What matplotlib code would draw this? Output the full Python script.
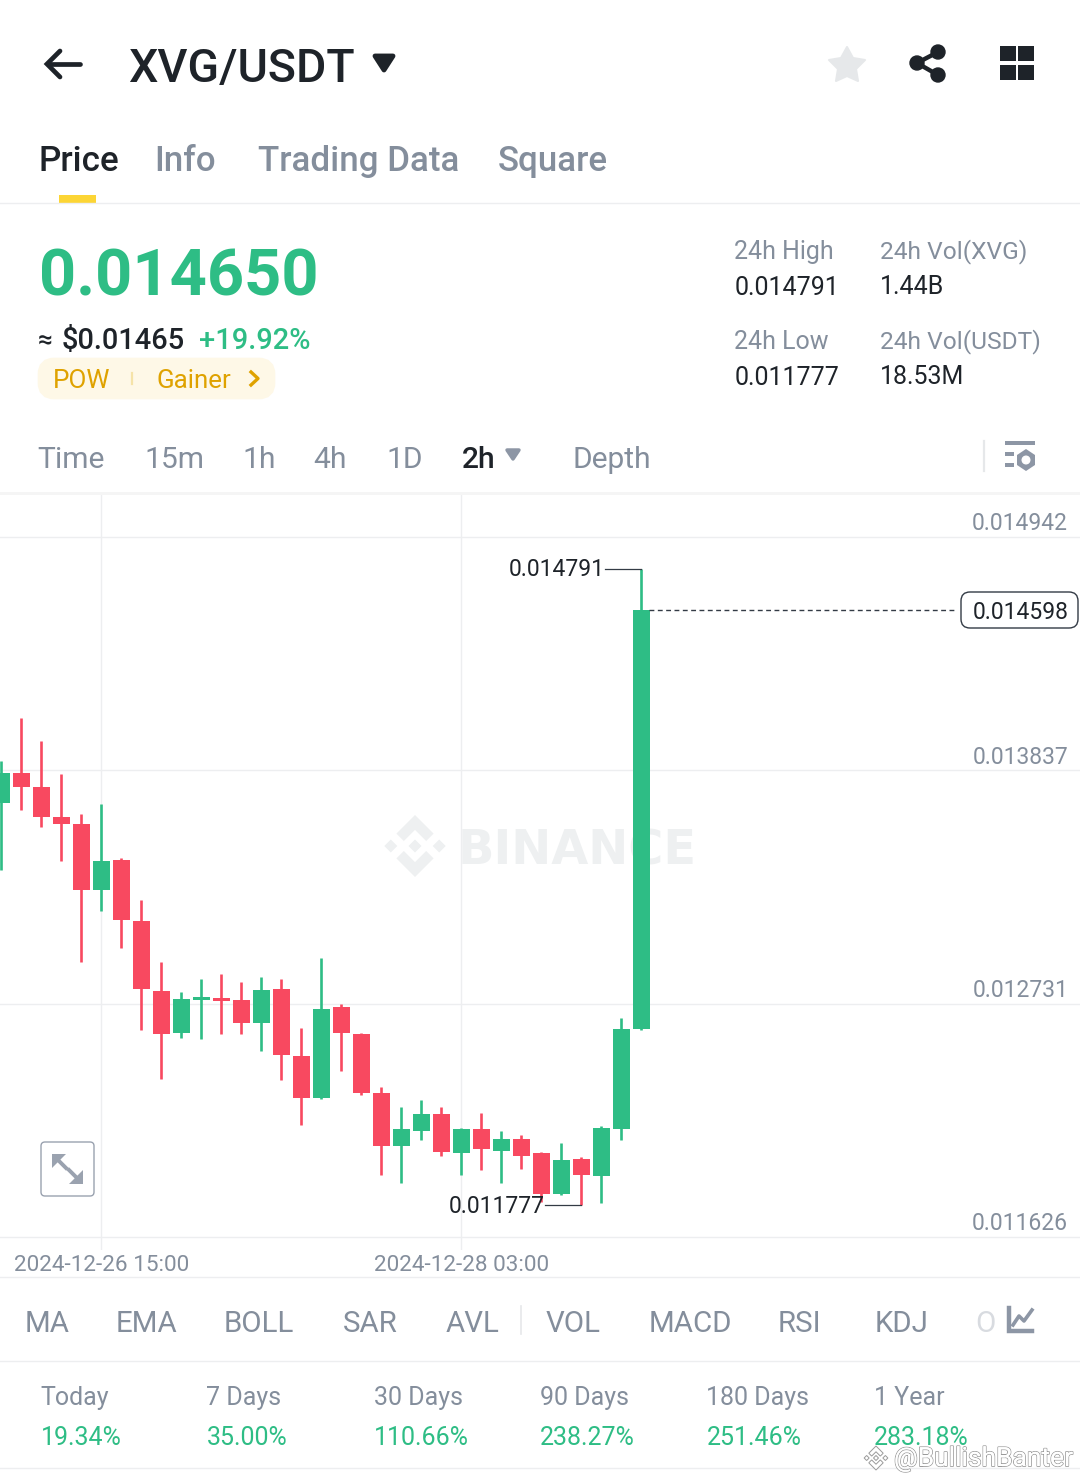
import matplotlib
matplotlib.use("Agg")
import matplotlib.pyplot as plt
import matplotlib.patheffects as pe
from matplotlib.patches import Circle, FancyBboxPatch, Polygon, Rectangle

plt.rcParams['font.family'] = ['Roboto', 'DejaVu Sans']

GREEN = '#2EBD85'
RED = '#F84960'
DARK = '#1E2329'
GREY = '#848E9C'
LINE = '#EDEEF0'

# 2h candles, oldest first
opens = [0.013683, 0.013825, 0.013756, 0.013617, 0.013581, 0.013268, 0.013410, 0.013124, 0.012791,
         0.012592, 0.012749, 0.012757, 0.012749, 0.012638, 0.012799, 0.012482, 0.012285, 0.012714,
         0.012589, 0.012308, 0.012059, 0.012128, 0.012210, 0.012024, 0.012139, 0.012035, 0.012089,
         0.012025, 0.011830, 0.011994, 0.011915, 0.012138, 0.012610]
highs = [0.013882, 0.014083, 0.013976, 0.013818, 0.013628, 0.013676, 0.013420, 0.013222, 0.012927,
         0.012788, 0.012848, 0.012870, 0.012834, 0.012856, 0.012850, 0.012615, 0.012949, 0.012728,
         0.012591, 0.012335, 0.012242, 0.012274, 0.012240, 0.012144, 0.012213, 0.012128, 0.012109,
         0.012029, 0.012071, 0.012004, 0.012152, 0.012662, 0.014791]
lows = [0.013365, 0.013649, 0.013567, 0.013406, 0.012929, 0.013169, 0.012994, 0.012608, 0.012373,
        0.012567, 0.012563, 0.012588, 0.012586, 0.012506, 0.012370, 0.012155, 0.012278, 0.012414,
        0.012299, 0.011920, 0.011883, 0.012086, 0.012008, 0.011920, 0.011943, 0.011883, 0.011948,
        0.011793, 0.011825, 0.011777, 0.011787, 0.012086, 0.012608]
closes = [0.013823, 0.013756, 0.013617, 0.013581, 0.013268, 0.013409, 0.013126, 0.012799, 0.012586,
          0.012755, 0.012764, 0.012745, 0.012640, 0.012796, 0.012488, 0.012285, 0.012708, 0.012594,
          0.012307, 0.012059, 0.012139, 0.012207, 0.012030, 0.012136, 0.012041, 0.012090, 0.012011,
          0.011828, 0.011989, 0.011918, 0.012141, 0.012610, 0.014598]

price_ticks = [0.014942, 0.013837, 0.012731, 0.011626]
date_ticks = [5, 23]
date_labels = ['2024-12-26 15:00', '2024-12-28 03:00']
high_price = 0.014791
low_price = 0.011777
last_price = 0.014598

tabs = ['Price', 'Info', 'Trading Data', 'Square']
tab_x = [39, 155, 259, 498]
intervals = ['Time', '15m', '1h', '4h', '1D', '2h', 'Depth']
interval_x = [38, 145, 243, 314, 387, 462, 573]
indicators = ['MA', 'EMA', 'BOLL', 'SAR', 'AVL', 'VOL', 'MACD', 'RSI', 'KDJ', 'O']
indicator_x = [25, 116, 224, 343, 446, 546, 649, 778, 875, 976]
periods = ['Today', '7 Days', '30 Days', '90 Days', '180 Days', '1 Year']
period_changes = ['19.34%', '35.00%', '110.66%', '238.27%', '251.46%', '283.18%']
period_x = [41, 207, 374, 540, 707, 874]

fig = plt.figure(figsize=(10.8, 14.8), dpi=100, facecolor='white')

# page furniture lives in pixel coordinates, underneath the chart
ui = fig.add_axes([0, 0, 1, 1], zorder=1)
ui.set_xlim(0, 1080)
ui.set_ylim(1480, 0)
ui.axis('off')


def txt(x, y, s, px, color=GREY, weight='normal', ha='left', **kw):
    # roboto sits a bit high with va=center, push it down relative to its size
    return ui.text(x - 1.5, y + px * 0.085, s, fontsize=px * 0.72, color=color, fontweight=weight, ha=ha,
                   va='center', **kw)


def logo(cx, cy, r, **kw):
    top = [(0, -1), (0.6, -0.4), (0.36, -0.16), (0, -0.52), (-0.36, -0.16), (-0.6, -0.4)]
    bottom = [(x, -y) for x, y in top]
    for sx, sy, h in [(0, 0, 0.21), (-0.78, 0, 0.21), (0.78, 0, 0.21)]:
        pts = [(sx, sy - h), (sx + h, sy), (sx, sy + h), (sx - h, sy)]
        ui.add_patch(Polygon([(cx + r * a, cy + r * b) for a, b in pts], **kw))
    for shape in (top, bottom):
        ui.add_patch(Polygon([(cx + r * a, cy + r * b) for a, b in shape], **kw))


# header
ui.plot([48, 80], [64, 64], color=DARK, lw=3.4, solid_capstyle='round')
ui.plot([60, 47, 60], [51, 64, 77], color=DARK, lw=3.4, solid_capstyle='round', solid_joinstyle='miter')
txt(130, 65, 'XVG/USDT', 46.5, DARK, 'medium')
ui.add_patch(Polygon([(375, 56), (393, 56), (384, 70)], closed=True, fc=DARK, ec=DARK, joinstyle='round', lw=3.5))

star = [(847, 47), (853, 58), (865, 60), (856, 69), (858, 81), (847, 76), (836, 81), (838, 69), (829, 60), (841, 58)]
ui.add_patch(Polygon(star, closed=True, fc='#E6E8EA', ec='#E6E8EA', lw=1.5, joinstyle='round'))
ui.plot([938, 917, 938], [52, 63, 75], color=DARK, lw=3.2)
for cx, cy in [(917, 63), (938, 52), (938, 75)]:
    ui.add_patch(Circle((cx, cy), 7, color=DARK))
for x0, y0 in [(1000, 46), (1018, 46), (1000, 65), (1018, 65)]:
    ui.add_patch(Rectangle((x0, y0), 16, 15, color=DARK, lw=0))

for x, label in zip(tab_x, tabs):
    if label == 'Price':
        txt(x + 1, 159, label, 35, DARK, 'medium')
    else:
        txt(x + 1, 159, label, 35, GREY, 'medium')
ui.add_patch(Rectangle((59, 195), 37, 8, color='#FCD535', lw=0))
ui.plot([0, 1080], [203, 203], color=LINE, lw=1)

# price block
txt(40, 272, '0.014650', 65, GREEN, 'bold')
txt(39, 339, '≈', 26, DARK, 'medium')
txt(63, 339, '$0.01465', 29, DARK, 'medium')
txt(200, 339, '+19.92%', 29, GREEN, 'medium')
ui.add_patch(FancyBboxPatch((46, 366), 221, 25, boxstyle='round,pad=0,rounding_size=8',
                            mutation_aspect=1, fc='#FEF8E7', ec='#FEF8E7', lw=12))
txt(54, 379, 'POW', 26, '#DFA200')
ui.plot([132, 132], [373, 384], color='#F5E3A8', lw=1.6)
txt(158, 379, 'Gainer', 26, '#DFA200')
ui.plot([251, 258, 251], [372, 378.5, 385], color='#DFA200', lw=2.4)

txt(736, 250, '24h High', 25)
txt(736, 286, '0.014791', 25, DARK)
txt(736, 340, '24h Low', 25)
txt(736, 376, '0.011777', 25, DARK)
txt(881, 249, '24h Vol(XVG)', 24.5)
txt(881, 285, '1.44B', 25, DARK)
txt(881, 339, '24h Vol(USDT)', 24.5)
txt(881, 375, '18.53M', 25, DARK)

# interval row
for x, label in zip(interval_x, intervals):
    if label == '2h':
        txt(x + 1, 457, label, 30, DARK, 'medium')
    else:
        txt(x + 1, 457, label, 30)
ui.add_patch(Polygon([(507, 450), (519, 450), (513, 459)], closed=True, fc='#8D96A5', ec='#8D96A5', lw=2.5, joinstyle='round'))
ui.plot([983.5, 983.5], [441, 471], color='#E6E8EA', lw=1.6)
ui.add_patch(Rectangle((1005, 441), 30, 4, color='#8D96A5', lw=0))
ui.add_patch(Rectangle((1005, 452), 9, 4, color='#8D96A5', lw=0))
ui.add_patch(Rectangle((1005, 463), 9, 4, color='#8D96A5', lw=0))
hexagon = [(1026, 449), (1035, 455), (1035, 465), (1026, 471), (1017, 465), (1017, 455)]
ui.add_patch(Polygon(hexagon, closed=True, color='#8D96A5', lw=0))
ui.add_patch(Circle((1026, 460), 3.8, color='white'))
ui.add_patch(Rectangle((0, 492), 1080, 3, color='#F5F5F5', lw=0))

# watermark goes under the candles
logo(415, 846, 31, color='#EEF0F1', lw=0)
ui.text(458, 851, 'BINANCE', fontsize=34.5, color='#EEF0F1', fontweight='bold',
        family='DejaVu Sans', va='center')

# lower rows
ui.plot([0, 1080], [1277, 1277], color=LINE, lw=1)
for x, label in zip(indicator_x, indicators):
    txt(x + 1, 1321, label, 29.5, '#D8DBE0' if label == 'O' else GREY)
ui.plot([521, 521], [1306, 1334], color='#E6E8EA', lw=1.2)
ui.plot([1009, 1009, 1032], [1308, 1331, 1331], color='#8D96A5', lw=3.2, solid_joinstyle='miter')
ui.plot([1013, 1019, 1024, 1032], [1325, 1316, 1321, 1310], color='#8D96A5', lw=2.6)
ui.plot([0, 1080], [1361, 1361], color=LINE, lw=1)
for x, label, change in zip(period_x, periods, period_changes):
    txt(x + 1, 1396, label, 25)
    txt(x + 1, 1436, change, 25, GREEN)
ui.plot([0, 1080], [1468, 1468], color=LINE, lw=1)

# the chart itself
ax = fig.add_axes([0, 1 - 1250 / 1480, 1, (1250 - 495) / 1480], zorder=2)
ax.patch.set_alpha(0)
for side in ax.spines.values():
    side.set_visible(False)
ax.set_xlim(-0.05, 53.95)
ax.set_ylim(0.014942 - (1250 - 537) * 4.737e-6, 0.014942 + 42 * 4.737e-6)
ax.set_xticks(date_ticks)
ax.set_yticks(price_ticks)
ax.tick_params(length=0, labelbottom=False, labelleft=False)
ax.grid(color=LINE, lw=1)
ax.set_axisbelow(True)

for i in range(len(opens)):
    color = GREEN if closes[i] >= opens[i] else RED
    ax.vlines(i, lows[i], highs[i], color=color, lw=1.9, zorder=3)
    ax.bar(i, abs(closes[i] - opens[i]), bottom=min(opens[i], closes[i]), width=0.85, color=color, lw=0, zorder=4)

for p in price_ticks:
    ax.annotate('%.6f' % p, (1, p), xycoords=('axes fraction', 'data'), xytext=(-8.5, 1.2), textcoords='offset points',
                ha='right', va='bottom', fontsize=16.5, color=GREY)

# high / low markers
hi = highs.index(high_price)
lo = lows.index(low_price)
ax.plot([hi - 1.8, hi], [high_price, high_price], color='#333B45', lw=0.9, zorder=5)
ax.annotate('%.6f' % high_price, (hi - 1.85, high_price), xytext=(0.8, -0.8), textcoords='offset points',
            ha='right', va='center', fontsize=16.5, color=DARK, zorder=5)
ax.plot([lo - 1.8, lo], [low_price, low_price], color='#333B45', lw=0.9, zorder=5)
ax.annotate('%.6f' % low_price, (lo - 1.85, low_price), xytext=(0.8, -0.8), textcoords='offset points',
            ha='right', va='center', fontsize=16.5, color=DARK, zorder=5)

# last price tag
ax.plot([32.4, 47.8], [last_price, last_price], color='#333B45', lw=1, ls=(0, (3.5, 2.5)), zorder=5)
ax.annotate('%.6f' % last_price, (1, last_price), xycoords=('axes fraction', 'data'), xytext=(-8, -2),
            textcoords='offset points', ha='right', va='center', fontsize=16.5, color=DARK, zorder=6)
ui.add_patch(FancyBboxPatch((961, 592), 117, 36, boxstyle='round,pad=0,rounding_size=9',
                            fc='white', ec='#333B45', lw=1))

# date labels sit below the plot area
for i, label in zip(date_ticks, date_labels):
    ax.annotate(label, (i, 0), xycoords=('data', 'axes fraction'), xytext=(0.7, -11), textcoords='offset points',
                ha='center', va='center', fontsize=16.2, color=GREY, annotation_clip=False)

# expand button
ui.add_patch(FancyBboxPatch((41, 1142), 53, 54, boxstyle='round,pad=0,rounding_size=4',
                            fc='white', ec='#9AA2AF', lw=1))
btn = '#9AA2AF'
ui.add_patch(Polygon([(52, 1154), (66, 1154), (52, 1168)], closed=True, color=btn, lw=0))
ui.add_patch(Polygon([(83, 1184), (69, 1184), (83, 1170)], closed=True, color=btn, lw=0))
ui.plot([56, 66], [1158, 1168], color=btn, lw=2.8)
ui.plot([69, 79], [1170, 1180], color=btn, lw=2.8)

# source watermark, bottom right
logo(876, 1458, 12, fc='white', ec='#9A9A9A', lw=0.7, zorder=6)
ui.text(894, 1459, '@BullishBanter', fontsize=19, color='white', va='center', zorder=6,
        path_effects=[pe.withStroke(linewidth=1.2, foreground='#9A9A9A'), pe.Normal()])

fig.savefig('out.png', dpi=100)
